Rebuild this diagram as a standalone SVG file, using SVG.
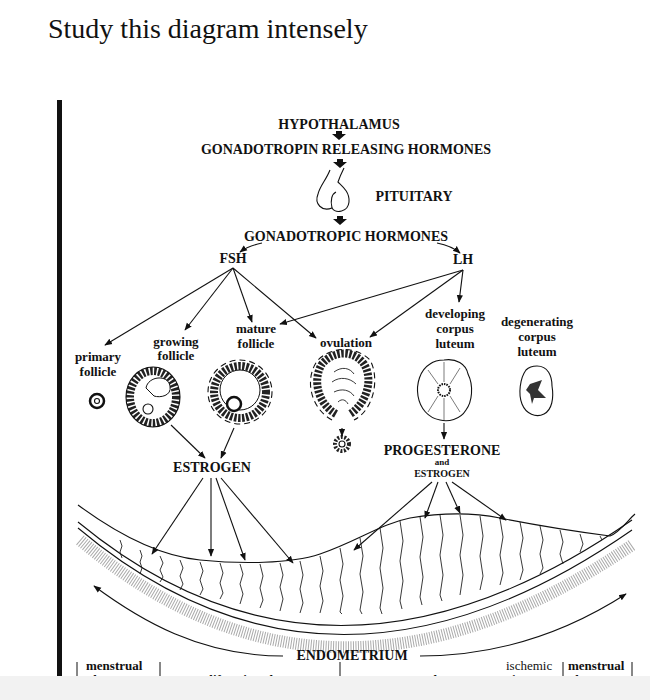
<svg xmlns="http://www.w3.org/2000/svg" width="650" height="700" viewBox="0 0 650 700">
<defs>
<marker id="ah" viewBox="0 0 10 10" refX="9" refY="5" markerWidth="7" markerHeight="7" orient="auto"><path d="M0,1 L10,5 L0,9 z" fill="#111"/></marker>
<style>
.t{font-family:"Liberation Serif",serif;font-weight:bold;fill:#111;text-anchor:middle}
.b{font-size:14px}.s{font-size:13px}.x{font-size:9px}
.c{stroke:#111;stroke-width:1.1;fill:none}
.g{stroke:#222;stroke-width:0.9;fill:none}
.ring{stroke:#222;stroke-width:8;fill:none;stroke-dasharray:2.5 1.5}
.bk{fill:#111}
</style>
</defs>
<rect width="650" height="700" fill="#fff"/>
<text x="48" y="38" style="font-family:'Liberation Serif',serif;font-size:28px;fill:#111">Study this diagram intensely</text>
<rect x="57" y="100" width="5" height="576" fill="#111"/>

<g id="hypothalamus"><text class="t b" x="339" y="129">HYPOTHALAMUS</text></g>
<g id="gnrh"><text class="t b" x="346" y="154">GONADOTROPIN RELEASING HORMONES</text></g>
<g id="pituitary">
<path class="c" d="M330,170 C326,180 320,186 318,194 C314,204 322,212 332,208 C336,214 348,212 349,202 C350,192 342,186 338,182 C340,176 342,172 344,168"/>
<path class="c" d="M332,208 C330,200 332,194 336,192"/>
<text class="t b" x="414" y="201">PITUITARY</text></g>
<g id="gonadotropic"><text class="t b" x="346" y="241">GONADOTROPIC HORMONES</text></g>
<g id="fsh"><text class="t b" x="233" y="263">FSH</text></g>
<g id="lh"><text class="t b" x="463" y="264">LH</text></g>
<g id="primary"><text class="t s" x="98" y="361">primary</text><text class="t s" x="98" y="376">follicle</text>
<circle cx="97" cy="401" r="7" style="stroke:#111;stroke-width:2.5;fill:none"/><circle cx="97" cy="401" r="2.5" class="c"/></g>
<g id="growing"><text class="t s" x="176" y="346">growing</text><text class="t s" x="176" y="360">follicle</text>
<ellipse cx="153" cy="397" rx="23" ry="26" class="ring"/><ellipse cx="153" cy="397" rx="27" ry="30" class="c"/>
<path d="M146,388 C148,376 168,374 170,386 C172,396 160,398 154,396 z" fill="#fff" stroke="#111"/><circle cx="148" cy="409" r="5" class="c"/></g>
<g id="mature"><text class="t s" x="256" y="333">mature</text><text class="t s" x="256" y="348">follicle</text>
<circle cx="240" cy="392" r="26" class="ring"/><circle cx="240" cy="392" r="32" class="c" style="stroke-dasharray:6 4"/>
<circle cx="240" cy="390" r="20" fill="#fff" stroke="#111"/><circle cx="234" cy="404" r="7" fill="#fff" style="stroke:#111;stroke-width:2.5"/></g>
<g id="ovulation"><text class="t s" x="346" y="347">ovulation</text>
<path class="ring" d="M336,414 C318,404 312,380 322,364 C334,350 354,350 364,364 C374,380 366,404 350,414"/>
<path class="c" style="stroke-dasharray:6 4" d="M332,420 C310,408 304,378 318,360 C332,346 356,346 370,360 C380,378 374,410 354,420"/>
<path class="g" d="M334,372 C342,366 350,368 354,374 M332,382 C340,376 350,378 356,384 M334,392 C342,388 350,390 354,396 M338,402 C342,398 346,400 348,404"/>
<circle cx="342" cy="444" r="7" style="stroke:#222;stroke-width:4;fill:none;stroke-dasharray:2 1.5"/><circle cx="342" cy="444" r="3" class="c"/></g>
<g id="developing"><text class="t s" x="455" y="318">developing</text><text class="t s" x="455" y="333">corpus</text><text class="t s" x="455" y="348">luteum</text>
<path class="c" d="M444,360 C456,358 466,364 468,374 C474,386 472,402 466,410 C460,420 448,422 440,420 C428,418 420,408 418,396 C416,384 420,370 430,364 C434,361 440,360 444,360 z"/>
<path class="g" style="stroke-width:0.6" d="M444,362 L444,382 M444,398 L444,420 M428,370 L438,384 M460,368 L450,384 M428,412 L438,396 M460,412 L450,396"/>
<circle cx="444" cy="390" r="6" style="stroke:#111;stroke-width:2;fill:none;stroke-dasharray:1.5 1"/></g>
<g id="degenerating"><text class="t s" x="537" y="326">degenerating</text><text class="t s" x="537" y="341">corpus</text><text class="t s" x="537" y="356">luteum</text>
<path class="c" d="M537,366 C548,366 552,376 552,386 C554,398 552,410 544,414 C536,418 526,414 522,404 C518,394 520,378 526,370 C529,367 533,366 537,366 z"/>
<path d="M530,384 L542,380 L538,390 L546,398 L534,398 L532,404 L530,394 L526,390 z" fill="#333"/></g>
<g id="estrogen"><text class="t b" x="212" y="472">ESTROGEN</text></g>
<g id="progesterone"><text class="t b" x="442" y="455">PROGESTERONE</text><text class="t x" x="442" y="465">and</text><text class="t" style="font-size:10px" x="442" y="477">ESTROGEN</text></g>

<g id="endometrium">
<path d="M80,540 Q330,752 632,545" style="stroke:#aaa;stroke-width:12;fill:none;stroke-dasharray:1 1.5"/>
<path class="c" d="M78,528 Q330,740 632,530"/>
<path class="c" d="M78,522 Q330,730 632,520"/>
<path class="c" d="M78,505 C120,536 160,556 200,560 C240,564 290,564 320,554 C360,540 380,524 410,518 C440,513 470,512 500,518 C540,526 580,532 610,536 C620,532 628,520 635,514"/>
<g class="g">
<path d="M120,540 l2,6 l-2,6 l2,6"/><path d="M140,550 l2,6 l-2,6 l2,6 l-2,6"/><path d="M160,556 l3,7 l-3,7 l3,7 l-3,5"/><path d="M180,560 l3,8 l-3,8 l3,8 l-3,6"/>
<path d="M200,562 l3,9 l-3,9 l3,9 l-3,6"/><path d="M220,563 l3,10 l-3,10 l3,10 l-3,6"/><path d="M240,564 l3,10 l-3,10 l3,10 l-3,10"/><path d="M260,564 l3,12 l-3,12 l3,12 l-3,8"/>
<path d="M280,563 l3,12 l-3,12 l3,12 l-3,12"/><path d="M300,561 l3,14 l-3,14 l3,14 l-3,10"/><path d="M320,556 l3,15 l-3,15 l3,15 l-3,12"/><path d="M340,548 l3,16 l-3,16 l3,16 l-3,16 l2,2"/>
<path d="M360,538 l3,18 l-3,18 l3,18 l-3,18 l2,4"/><path d="M380,528 l3,20 l-3,20 l3,20 l-3,20 l2,6"/><path d="M400,521 l3,20 l-3,20 l3,20 l-3,20 l2,8"/><path d="M420,517 l3,20 l-3,20 l3,20 l-3,20 l2,8"/>
<path d="M440,515 l3,20 l-3,20 l3,20 l-3,20 l2,6"/><path d="M460,515 l3,20 l-3,20 l3,20 l-3,20"/><path d="M480,516 l3,20 l-3,20 l3,20 l-3,14"/><path d="M500,519 l3,18 l-3,18 l3,18 l-3,12"/>
<path d="M520,522 l3,16 l-3,16 l3,16 l-3,10"/><path d="M540,526 l3,14 l-3,14 l3,14 l-3,6"/><path d="M560,530 l3,12 l-3,12 l3,10"/><path d="M580,534 l3,10 l-3,8"/><path d="M600,536 l2,4"/>
</g>
<text class="t b" x="352" y="660">ENDOMETRIUM</text>
</g>

<g id="phases" style="font-family:'Liberation Serif',serif;font-weight:bold;font-size:13px;fill:#111">
<text x="86" y="670">menstrual</text><text x="86" y="684">phase</text>
<text x="190" y="684">proliferative phase</text>
<text x="372" y="684">secretory phase</text>
<text x="506" y="670" style="font-weight:normal">ischemic</text><text x="506" y="684" style="font-weight:normal">phase</text>
<text x="568" y="670">menstrual</text><text x="568" y="684">phase</text>
<g stroke="#111" stroke-width="1"><line x1="77" y1="662" x2="77" y2="676"/><line x1="160" y1="662" x2="160" y2="676"/><line x1="340" y1="662" x2="340" y2="676"/><line x1="563" y1="662" x2="563" y2="676"/><line x1="632" y1="662" x2="632" y2="676"/></g>
</g>

<g id="connectors">
<path class="bk" d="M336,131 h6 v3 h4 l-7,6 l-7,-6 h4 z"/>
<path class="bk" d="M337,159 h6 v3 h4 l-7,6 l-7,-6 h4 z"/>
<path class="bk" d="M337,216 h6 v3 h4 l-7,6 l-7,-6 h4 z"/>
<g class="c" marker-end="url(#ah)">
<path d="M262,243 Q248,246 240,252"/>
<path d="M437,243 Q452,246 460,253"/>
<line x1="233" y1="268" x2="105" y2="345"/>
<line x1="233" y1="268" x2="185" y2="330"/>
<line x1="233" y1="268" x2="252" y2="322"/>
<line x1="233" y1="268" x2="316" y2="338"/>
<line x1="463" y1="270" x2="280" y2="324"/>
<line x1="463" y1="270" x2="370" y2="337"/>
<line x1="463" y1="270" x2="459" y2="302"/>
<line x1="171" y1="425" x2="205" y2="458"/>
<line x1="234" y1="428" x2="221" y2="458"/>
<line x1="342" y1="428" x2="342" y2="436"/>
<line x1="444" y1="423" x2="444" y2="439"/>
<line x1="203" y1="478" x2="152" y2="554"/>
<line x1="211" y1="478" x2="211" y2="556"/>
<line x1="216" y1="478" x2="245" y2="560"/>
<line x1="221" y1="478" x2="293" y2="563"/>
<line x1="432" y1="482" x2="354" y2="550"/>
<line x1="438" y1="482" x2="425" y2="518"/>
<line x1="446" y1="482" x2="460" y2="513"/>
<line x1="452" y1="482" x2="506" y2="520"/>
<path d="M283,656 C200,656 140,620 94,586"/>
<path d="M420,656 C500,656 570,630 626,594"/>
</g>
</g>
<rect x="0" y="676" width="650" height="24" fill="#f2f2f2"/>
</svg>
